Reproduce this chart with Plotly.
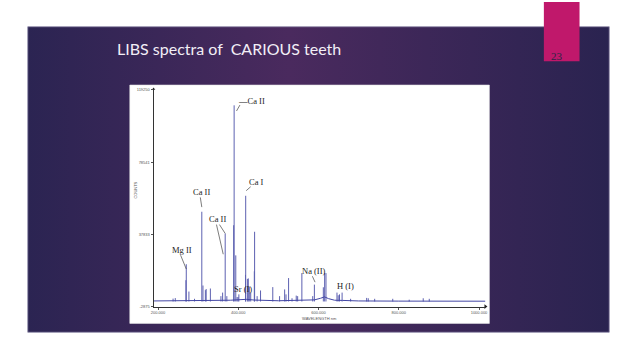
import plotly.graph_objects as go

# ---------------- data ----------------
title_text = "LIBS spectra of  CARIOUS teeth"
slide_number = "23"

x_tick_vals = [200, 400, 600, 800, 1000]
x_tick_text = ["200.000", "400.000", "600.000", "800.000", "1000.000"]
y_tick_vals = [-2875, 37833, 78541, 119250]
y_tick_text = ["-2875", "37833", "78541", "119250"]

# emission lines: wavelength (nm) and peak counts
peak_wavelength = [237.5, 243, 269.5, 270.4, 277, 291, 309.1, 312, 318, 320, 330.5,
                   356.8, 361, 367.4, 371.5, 388.5, 389.7, 393.8, 397, 399.6, 401.5,
                   418, 418.5, 422.7, 425, 427.5, 431, 440, 440.7, 447, 455.5, 486,
                   503, 515.6, 519, 525.4, 534, 544.5, 548, 558.5, 585.6, 589.7, 612,
                   615.3, 618.6, 646, 649, 652.3, 658.8, 680, 720, 724, 740, 785,
                   826, 861, 876]
peak_counts = [1600, 1900, 12000, 21000, 5600, 1500, 50600, 9000, 6400, 7000, 7300,
               3000, 5000, 38300, 3000, 43000, 110600, 26000, 2500, 2500, 4000,
               15000, 59600, 12700, 13000, 8200, 5000, 17000, 39300, 3000, 6200, 8100,
               3000, 6800, 4000, 13200, 1800, 3300, 3000, 16000, 3000, 9500, 8000,
               16000, 16000, 5000, 3500, 4000, 5000, 1500, 2000, 1800, 1500, 1500,
               1000, 1800, 1500]

# continuum (baseline) readings
base_wavelength = [189, 240, 300, 380, 420, 440, 500, 560, 590, 605, 615, 625, 640,
                   660, 700, 800, 1000, 1016]
base_counts = [300, 400, 300, 700, 1200, 800, 400, 600, 900, 1800, 2600, 1600, 700,
               600, 300, 200, 150, 150]

# line labels: text, text position (nm, counts)
label_text = ["Mg II", "Ca II", "Ca II", "—Ca II", "Ca I", "Sr (I)", "Na (II)", "H (I)"]
label_wl = [260.5, 307.4, 349.4, 393.2, 445.7, 411.9, 588.9, 667.9]
label_counts = [29041, 61570, 46531, 113260, 67140, 6761, 17344, 8655]
label_anchor = ["center", "center", "center", "left", "center", "center", "center", "center"]

# leader lines: (from nm, from counts, to nm, to counts)
leaders = [
    (256.3, 26089, 270.4, 18291),
    (305.4, 58673, 309.1, 53214),
    (345.7, 43356, 362.5, 26646),
    (353.1, 43356, 367.4, 38343),
    (395.6, 107411, 404.2, 110753),
    (430.9, 64689, 419.8, 62461),
    (584.7, 14225, 591.4, 10883),
]

X_RANGE = [188.9, 1016]
Y_RANGE = [-2875, 119800]

W, H = 638, 359

fig = go.Figure()

# ---------------- slide background (pixel coordinates on x/y) ----------------
def rect(x0, y0, x1, y1, **kw):
    return go.Scatter(x=[x0, x1, x1, x0, x0], y=[y0, y0, y1, y1, y0], mode="lines",
                      fill="toself", hoverinfo="skip", showlegend=False, xaxis="x", yaxis="y", **kw)

fig.add_trace(rect(25, 25, 612, 334,
                   line=dict(color="#8e88a8", width=0.8),
                   fillgradient=dict(type="horizontal",
                                     colorscale=[[0, "#2b2452"], [0.45, "#4a2a5e"], [1, "#2a2350"]])))
fig.add_trace(rect(546, 0, 582, 60, line=dict(width=0), fillcolor="#c0186b"))
fig.add_trace(rect(128, 84, 491, 325, line=dict(color="#e6e6e6", width=0.6), fillcolor="#ffffff"))

# ---------------- spectrum ----------------
line_color = "#4246a4"
fig.add_trace(go.Scatter(x=base_wavelength, y=base_counts, mode="lines",
                         line=dict(color=line_color, width=1), showlegend=False,
                         xaxis="x2", yaxis="y2"))
seg_x, seg_y = [], []
for wl, c in zip(peak_wavelength, peak_counts):
    seg_x += [wl, wl, None]
    seg_y += [0, c, None]
fig.add_trace(go.Scatter(x=seg_x, y=seg_y, mode="lines",
                         line=dict(color=line_color, width=1), opacity=0.85, showlegend=False,
                         xaxis="x2", yaxis="y2"))

# axis-end arrowheads
fig.add_trace(go.Scatter(x=[X_RANGE[1]], y=[Y_RANGE[0]], mode="markers",
                         marker=dict(symbol="triangle-right", size=4, color="#222"),
                         cliponaxis=False, showlegend=False, xaxis="x2", yaxis="y2"))
fig.add_trace(go.Scatter(x=[X_RANGE[0]], y=[Y_RANGE[1]], mode="markers",
                         marker=dict(symbol="triangle-up", size=3, color="#222"),
                         cliponaxis=False, showlegend=False, xaxis="x2", yaxis="y2"))

shapes = []
for x0, y0, x1, y1 in leaders:
    shapes.append(dict(type="line", xref="x2", yref="y2", x0=x0, y0=y0, x1=x1, y1=y1,
                       line=dict(color="#444", width=0.7)))

annotations = []
for t, xw, yc, anc in zip(label_text, label_wl, label_counts, label_anchor):
    annotations.append(dict(text=t, x=xw, y=yc, xref="x2", yref="y2", showarrow=False,
                            xanchor=anc, yanchor="middle",
                            font=dict(family="Liberation Serif", size=8.5, color="#222")))

annotations += [
    dict(text=title_text, x=113 / W, y=1 - 47 / H, xref="paper", yref="paper",
         xanchor="left", yanchor="middle", showarrow=False,
         font=dict(family="Lato", size=16, color="#f2eef6")),
    dict(text=slide_number, x=559 / W, y=1 - 55 / H, xref="paper", yref="paper",
         xanchor="center", yanchor="middle", showarrow=False,
         font=dict(family="Liberation Serif", size=11, color="#2a2545")),
    dict(text="WAVELENGTH nm", x=320 / W, y=1 - 320 / H, xref="paper", yref="paper",
         xanchor="center", yanchor="middle", showarrow=False,
         font=dict(family="Liberation Sans", size=4, color="#555")),
    dict(text="COUNTS", x=134 / W, y=1 - 190 / H, xref="paper", yref="paper",
         xanchor="center", yanchor="middle", showarrow=False, textangle=-90,
         font=dict(family="Liberation Sans", size=4, color="#555")),
]

fig.update_layout(
    width=W, height=H, autosize=False,
    margin=dict(l=0, r=0, t=0, b=0, pad=0),
    paper_bgcolor="#ffffff", plot_bgcolor="rgba(0,0,0,0)",
    xaxis=dict(domain=[0, 1], range=[0, W], visible=False, fixedrange=True),
    yaxis=dict(domain=[0, 1], range=[H, 0], visible=False, fixedrange=True),
    xaxis2=dict(domain=[152 / W, 487 / W], range=X_RANGE, anchor="y2",
                showline=True, linecolor="#333", linewidth=1, showgrid=False, zeroline=False,
                tickvals=x_tick_vals, ticktext=x_tick_text, ticks="outside", ticklen=2,
                tickcolor="#555", tickfont=dict(family="Liberation Sans", size=4, color="#555")),
    yaxis2=dict(domain=[1 - 308 / H, 1 - 88 / H], range=Y_RANGE, anchor="x2",
                showline=True, linecolor="#333", linewidth=1, showgrid=False, zeroline=False,
                tickvals=y_tick_vals, ticktext=y_tick_text, ticks="outside", ticklen=2,
                tickcolor="#555", tickfont=dict(family="Liberation Sans", size=4, color="#555")),
    shapes=shapes,
    annotations=annotations,
    showlegend=False,
)

fig.write_html("out.html", config={"displayModeBar": False},
               post_script="document.body.style.margin='0';document.body.style.overflow='hidden';")
